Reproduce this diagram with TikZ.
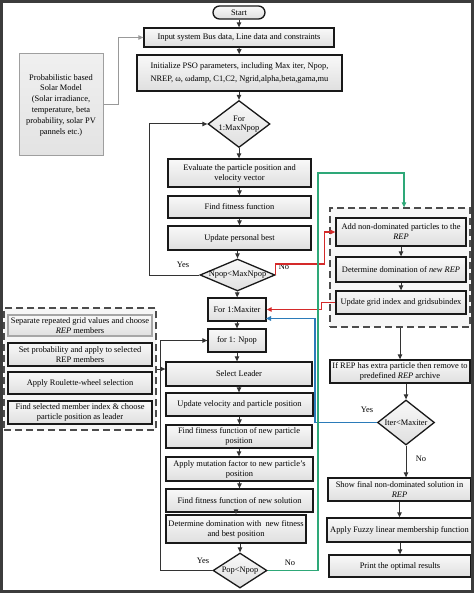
\documentclass[tikz,border=0pt]{standalone}
\usepackage{fontspec}
\setmainfont{Liberation Serif}
\usetikzlibrary{shapes.geometric,arrows.meta,calc}
\definecolor{frm}{HTML}{3C3C3C}
\definecolor{ln}{HTML}{333333}
\definecolor{redl}{HTML}{D42A2A}
\definecolor{grnl}{HTML}{2EA878}
\definecolor{blul}{HTML}{2B7BB9}
\begin{document}
\begin{tikzpicture}[x=1pt,y=-1pt,
  font=\fontsize{8.4}{10}\selectfont,
  box/.style={draw=black!90, line width=1.3pt, top color=gray!5, bottom color=gray!25, align=center, inner sep=1pt},
  term/.style={box, rounded corners=6.5pt},
  dia/.style={shape=diamond, draw=black!90, line width=1.3pt, top color=gray!5, bottom color=gray!25, align=center, inner sep=-1pt},
  dashbox/.style={draw=gray!60!black, line width=1.3pt, dash pattern=on 7pt off 4pt, fill=gray!7, inner sep=0pt},
  arr/.style={draw=ln, line width=1pt, -{Triangle[length=5pt,width=4.5pt]}},
  lbl/.style={inner sep=1pt}
]
\useasboundingbox (0,0) rectangle (474,593);
\fill[white] (0,0) rectangle (474,593);

% dashed groups
\node[dashbox, minimum width=140pt, minimum height=119pt] (Rbox) at (400,267.5) {};
\node[dashbox, minimum width=152pt, minimum height=122pt] (Lbox) at (80,369) {};

% main column
\node[term, minimum width=52pt, minimum height=13pt] (start) at (239,12.5) {Start};
\node[box, minimum width=190pt, minimum height=19pt] (input) at (239,37.5) {Input system Bus data, Line data and constraints};
\node[box, line width=1.7pt, minimum width=205pt, minimum height=36pt, font=\fontsize{8.4}{13}\selectfont] (init) at (239.5,73) {Initialize PSO parameters, including Max iter, Npop,\\NREP, ω, ωdamp, C1,C2, Ngrid,alpha,beta,gama,mu};
\node[box, draw=gray!75, line width=1pt, top color=gray!12, bottom color=gray!22, minimum width=84pt, minimum height=102pt, font=\fontsize{8.4}{10.8}\selectfont] (prob) at (61,105) {Probabilistic based\\Solar Model\\(Solar irradiance,\\temperature, beta\\probability, solar PV\\pannels etc.)};
\node[dia, aspect=1.32, minimum width=62pt, minimum height=47pt, font=\fontsize{8.4}{9.5}\selectfont] (for1) at (239,124) {For\\1:MaxNpop};
\node[box, minimum width=143pt, minimum height=28pt] (eval) at (239.5,173) {Evaluate the particle position and\\velocity vector};
\node[box, minimum width=143pt, minimum height=22pt] (fit) at (239.5,207) {Find fitness function};
\node[box, minimum width=143pt, minimum height=24pt] (upb) at (239.5,238) {Update personal best};
\node[dia, aspect=2.34, minimum width=75pt, minimum height=32pt] (npop) at (237.5,275) {Npop<MaxNpop};
\node[box, minimum width=58pt, minimum height=23pt] (maxiter) at (237,309.5) {For 1:Maxiter};
\node[box, minimum width=58pt, minimum height=23pt] (npopfor) at (237,340.5) {for 1: Npop};
\node[box, minimum width=146pt, minimum height=24pt] (sel) at (239,374) {Select Leader};
\node[box, minimum width=147pt, minimum height=23pt] (updv) at (239.5,404.5) {Update velocity and particle position};
\node[box, minimum width=146pt, minimum height=23pt] (fnp) at (239,436.5) {Find fitness function of new particle\\position};
\node[box, minimum width=147pt, minimum height=24pt] (mut) at (239.5,469) {Apply mutation factor to new particle’s\\position};
\node[box, minimum width=147pt, minimum height=23pt] (fns) at (239.5,500.5) {Find fitness function of new solution};
\node[box, line width=1.5pt, minimum width=140pt, minimum height=28pt] (detd) at (236,529) {Determine domination with \ new fitness\\and best position};
\node[dia, aspect=1.54, minimum width=54pt, minimum height=35pt] (pop) at (240,570.5) {Pop<Npop};

% right column
\node[box, minimum width=130pt, minimum height=28pt] (add) at (401,232) {Add non-dominated particles to the\\\textit{REP}};
\node[box, minimum width=130pt, minimum height=25pt] (dom) at (401,269.5) {Determine domination of \textit{new REP}};
\node[box, minimum width=130pt, minimum height=23pt] (upg) at (401,302.5) {Update grid index and gridsubindex};
\node[box, minimum width=140pt, minimum height=23pt] (ifrep) at (400,371.5) {If REP has extra particle then remove to\\predefined \textit{REP} archive};
\node[dia, aspect=1.27, minimum width=57pt, minimum height=45pt, inner sep=-2pt] (iter) at (406,422.5) {Iter<Maxiter};
\node[box, minimum width=143pt, minimum height=23pt] (show) at (399.5,489.5) {Show final non-dominated solution in\\\textit{REP}};
\node[box, line width=1.5pt, minimum width=145pt, minimum height=24pt] (fuzzy) at (399.5,530) {Apply Fuzzy linear membership function};
\node[box, minimum width=142pt, minimum height=22pt] (print) at (400,566) {Print the optimal results};

% left group
\node[box, draw=gray!70, minimum width=144pt, minimum height=21pt] (sep) at (80,325.5) {Separate repeated grid values and choose\\\textit{REP} members};
\node[box, minimum width=144pt, minimum height=23pt] (setp) at (80,354.5) {Set probability and apply to selected\\REP members};
\node[box, minimum width=144pt, minimum height=22pt] (roul) at (80,383) {Apply Roulette-wheel selection};
\node[box, minimum width=144pt, minimum height=23pt] (finds) at (80,412.5) {Find selected member index \& choose\\particle position as leader};

% labels
\node[lbl] (yes1) at (183,265) {Yes};
\node[lbl] (no1) at (284,267) {No};
\node[lbl] (yes2) at (367,410) {Yes};
\node[lbl] (no2) at (421,459) {No};
\node[lbl] (yes3) at (203,561) {Yes};
\node[lbl] (no3) at (290,563) {No};

% helper coordinates
\coordinate (g1) at (318,173);
\coordinate (b1) at (315,318.5);
\coordinate (b2) at (266,318.5);

% connectors main column
\draw[arr] (start) -- (input);
\draw[arr] (input) -- (init);
\draw[arr] (init.south -| for1.north) -- (for1.north);
\draw[arr] (for1) -- (eval.north -| for1.south);
\draw[arr] (eval) -- (fit);
\draw[arr] (fit) -- (upb);
\draw[arr] (upb.south -| npop.north) -- (npop.north);
\draw[arr] (npop) -- (maxiter);
\draw[arr] (maxiter) -- (npopfor);
\draw[arr] (npopfor.south) -- (npopfor.south |- sel.north);
\draw[arr] (sel.south) -- (sel.south |- updv.north);
\draw[arr] (updv.south) -- (updv.south |- fnp.north);
\draw[arr] (fnp.south) -- (fnp.south |- mut.north);
\draw[arr] (mut.south) -- (mut.south |- fns.north);
\draw[arr] (fns.south -| detd.north) -- (detd.north);
\draw[arr] (detd.south -| pop.north) -- (pop.north);
\draw[arr] (npop.west) -- ++(-50,0) |- (for1.west);
\draw[arr] (pop.west) -- ++(-52,0) |- (npopfor.west);
\draw[arr] (Lbox.east) -- (sel.west |- Lbox.east);
\draw[arr, draw=gray!80] (prob.east) -- ++(15,0) |- (input.west);

% right column connectors
\draw[arr] (add) -- (dom);
\draw[arr] (dom) -- (upg);
\draw[arr] (Rbox.south -| ifrep.north) -- (ifrep.north);
\draw[arr] (ifrep.south -| iter.north) -- (iter.north);
\draw[arr] (iter.south) -- (iter.south |- show.north);
\draw[arr] (show) -- (fuzzy);
\draw[arr] (fuzzy.south -| print.north) -- (print.north);

% coloured connectors
\draw[arr, draw=redl, line width=1.1pt] (npop.east) -- ++(0,-11) -| ([xshift=-11pt]add.west) -- (add.west);
\draw[arr, draw=redl, line width=1.1pt] (upg.west) -- ++(-14,0) |- (maxiter.east);
\draw[arr, draw=blul, line width=1.1pt] (iter.west) -| (b1) -- (b2);
\draw[arr, draw=grnl, line width=1.1pt] (pop.east) -| (g1) -| ([xshift=4pt]Rbox.north);

% frame
\draw[frm, line width=3pt] (1.5,1.5) rectangle (472.5,591.5);
\end{tikzpicture}
\end{document}
